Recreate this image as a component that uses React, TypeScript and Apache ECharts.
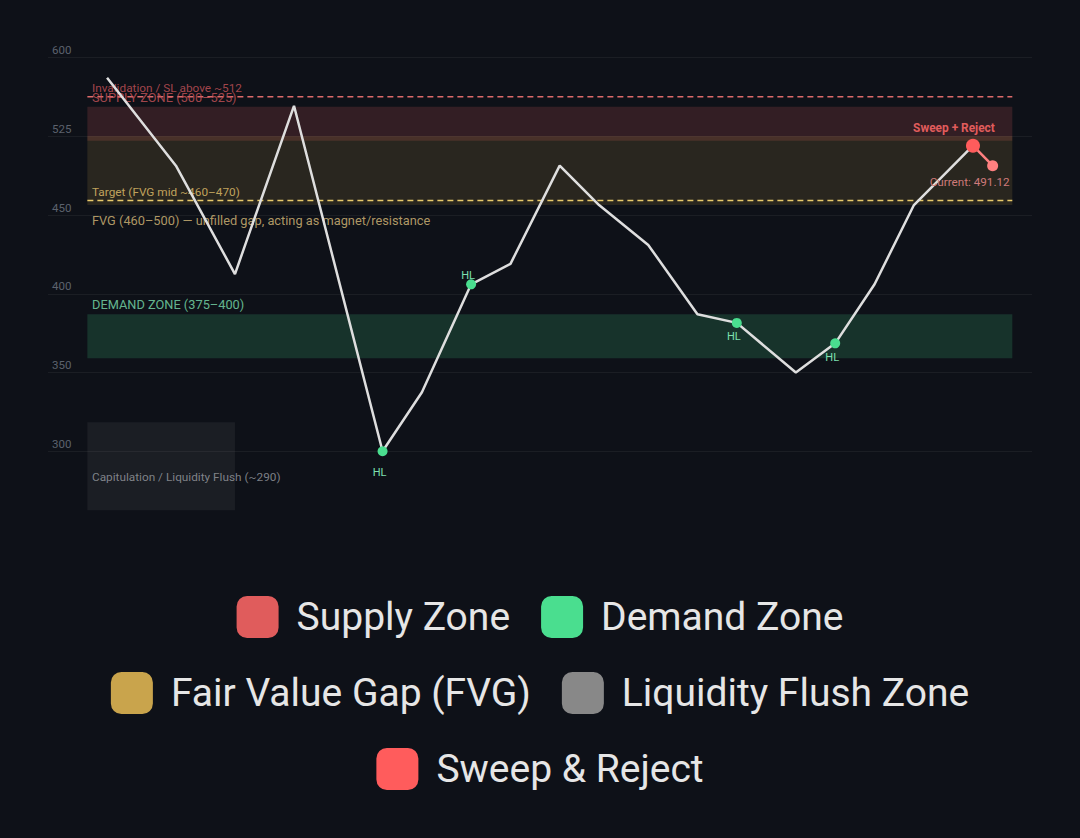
import React, { useEffect, useRef } from "react";
import * as echarts from "echarts";

// Tick labels of the price axis (they sit at equal distances in the picture)
const tickValues = [300, 350, 400, 450, 525, 600];

// Price path: position along the time axis (0-100) and price
const pricePositions = [6, 13, 19, 25, 34, 38, 43, 47, 52, 56, 61, 66, 70, 76, 80, 84, 88, 94];
const priceValues = [580.7, 497, 412.5, 554, 300, 337.5, 406, 419, 497, 459.5, 431, 387, 381.5, 350, 368.5, 406, 459.5, 516];

const sweepPositions = [94, 96];
const sweepValues = [516, 497];

const hlPositions = [34, 43, 70, 80];
const hlValues = [300, 406, 381.5, 368.5];
const hlLabelDy = [21, -9, 14, 14];

// Zones: [x from, x to, price from, price to]
const supplyZone = [4, 98, 553, 520.7];
const fvgZone = [4, 98, 525, 459.5];
const demandZone = [4, 98, 387, 359];
const flushZone = [4, 19, 318.4, 262.5];

const invalidationLevel = 562.6;
const targetLevel = 463.7;
const levelExtent = [4, 98];

const annotationTexts = [
  "Invalidation / SL above ~512",
  "SUPPLY ZONE (500–525)",
  "Target (FVG mid ~460–470)",
  "FVG (460–500) — unfilled gap, acting as magnet/resistance",
  "DEMAND ZONE (375–400)",
  "Capitulation / Liquidity Flush (~290)",
];
const annotationValues = [571.3, 561.8, 472.1, 446.2, 392.9, 283.5];
const annotationColors = ["#c9545a", "#c9545a", "#e6c46e", "#d9bc7a", "#7de0b0", "#9a9da2"];
const annotationFontSizes = [11.8, 12.8, 11.8, 12.8, 12.8, 11.8];

const legendRows = [
  ["Supply Zone", "Demand Zone"],
  ["Fair Value Gap (FVG)", "Liquidity Flush Zone"],
  ["Sweep & Reject"],
];

// Piecewise axis scale: a price to its tick-index position
function toAxis(v: number): number {
  if (v <= tickValues[0]) return (v - tickValues[0]) / (tickValues[1] - tickValues[0]);
  for (let i = 0; i < tickValues.length - 1; i++) {
    if (v <= tickValues[i + 1]) return i + (v - tickValues[i]) / (tickValues[i + 1] - tickValues[i]);
  }
  return tickValues.length - 1;
}

const BG = "#0e1118";
const FONT = "Roboto, sans-serif";

function zoneSeries(name: string, color: string, zone: number[], fill: string) {
  return {
    name,
    type: "line",
    data: [],
    z: 1,
    itemStyle: { color },
    lineStyle: { color },
    markArea: {
      silent: true,
      itemStyle: { color: fill },
      data: [[{ xAxis: zone[0], yAxis: toAxis(zone[2]) }, { xAxis: zone[1], yAxis: toAxis(zone[3]) }]],
    },
  };
}

function levelSeries(name: string, level: number, color: string) {
  return {
    name,
    type: "line",
    z: 2,
    symbol: "none",
    lineStyle: { color, width: 1.5, type: [6, 4] },
    data: levelExtent.map((x) => [x, toAxis(level)]),
  };
}

export default function App() {
  const ref = useRef<HTMLDivElement>(null);
  useEffect(() => {
    document.body.style.margin = "0";
    document.body.style.background = BG;
    const chart = echarts.init(ref.current!, undefined, { renderer: "svg" });
    chart.setOption({
      animation: false,
      backgroundColor: BG,
      textStyle: { fontFamily: FONT },
      grid: { left: 48, right: 48, top: 57.5, height: 472.5, containLabel: false },
      xAxis: { type: "value", min: 0, max: 100, show: false, splitLine: { show: false } },
      yAxis: {
        type: "value",
        min: -1,
        max: 5,
        interval: 1,
        axisLine: { show: false },
        axisTick: { show: false },
        splitLine: { show: true, showMinLine: false, lineStyle: { color: "rgba(255,255,255,0.055)", width: 1 } },
        axisLabel: {
          inside: true,
          verticalAlign: "bottom",
          margin: 4,
          color: "#5c626d",
          fontSize: 11.5,
          fontFamily: FONT,
          lineHeight: 15,
          formatter: (v: number) => (v >= 0 ? String(tickValues[v]) : ""),
        },
      },
      legend: legendRows.map((row, i) => ({
        data: row,
        top: 591 + i * 76,
        left: "center",
        orient: "horizontal",
        itemWidth: 42,
        itemHeight: 42,
        itemGap: 31,
        icon: "roundRect",
        selectedMode: false,
        itemStyle: { borderWidth: 0 },
        lineStyle: { width: 0 },
        textStyle: { color: "#e6e6e6", fontSize: 39, fontFamily: FONT, padding: [0, 0, 0, 13] },
      })),
      series: [
        zoneSeries("Supply Zone", "#e05c5c", supplyZone, "rgba(224,92,92,0.18)"),
        zoneSeries("Fair Value Gap (FVG)", "#c9a44c", fvgZone, "rgba(201,164,76,0.15)"),
        zoneSeries("Demand Zone", "#4ade8f", demandZone, "rgba(74,222,143,0.17)"),
        zoneSeries("Liquidity Flush Zone", "#888888", flushZone, "rgba(136,136,136,0.11)"),
        levelSeries("Invalidation", invalidationLevel, "#dd6a6a"),
        levelSeries("Target", targetLevel, "#e8c96a"),
        {
          name: "Annotations",
          type: "scatter",
          z: 3,
          symbolSize: 0,
          silent: true,
          data: annotationTexts.map((t, i) => ({
            value: [4.47, toAxis(annotationValues[i])],
            label: {
              show: true,
              position: "right",
              distance: 0,
              formatter: t,
              color: annotationColors[i],
              fontSize: annotationFontSizes[i],
              fontFamily: FONT,
            },
          })),
        },
        {
          name: "Price",
          type: "line",
          z: 5,
          symbol: "none",
          lineStyle: { color: "#dedede", width: 2.5 },
          data: pricePositions.map((x, i) => [x, toAxis(priceValues[i])]),
        },
        {
          name: "Sweep & Reject",
          type: "line",
          z: 6,
          showSymbol: true,
          symbol: "circle",
          itemStyle: { color: "#ff5c5c" },
          lineStyle: { color: "#ff8080", width: 2.5 },
          data: sweepPositions.map((x, i) => ({
            value: [x, toAxis(sweepValues[i])],
            symbolSize: i === 0 ? 14 : 11,
            itemStyle: { color: i === 0 ? "#ff5c5c" : "#ff8080" },
            label: {
              show: true,
              position: "inside",
              offset: i === 0 ? [-19, -18] : [-23, 16],
              formatter: i === 0 ? "Sweep + Reject" : "Current: 491.12",
              color: i === 0 ? "#e05c5c" : "#cf7a7a",
              fontWeight: i === 0 ? "bold" : "normal",
              fontSize: i === 0 ? 11.9 : 11.7,
              fontFamily: FONT,
            },
          })),
        },
        {
          name: "HL",
          type: "scatter",
          z: 7,
          symbol: "circle",
          symbolSize: 10,
          itemStyle: { color: "#4ade8f", opacity: 1 },
          data: hlPositions.map((x, i) => ({
            value: [x, toAxis(hlValues[i])],
            label: {
              show: true,
              position: "inside",
              offset: [-3, hlLabelDy[i]],
              formatter: "HL",
              color: "#7de0b0",
              fontSize: 11,
              fontFamily: FONT,
            },
          })),
        },
      ],
    });
    return () => chart.dispose();
  }, []);
  return <div ref={ref} style={{ width: 1080, height: 838, background: BG }} />;
}
